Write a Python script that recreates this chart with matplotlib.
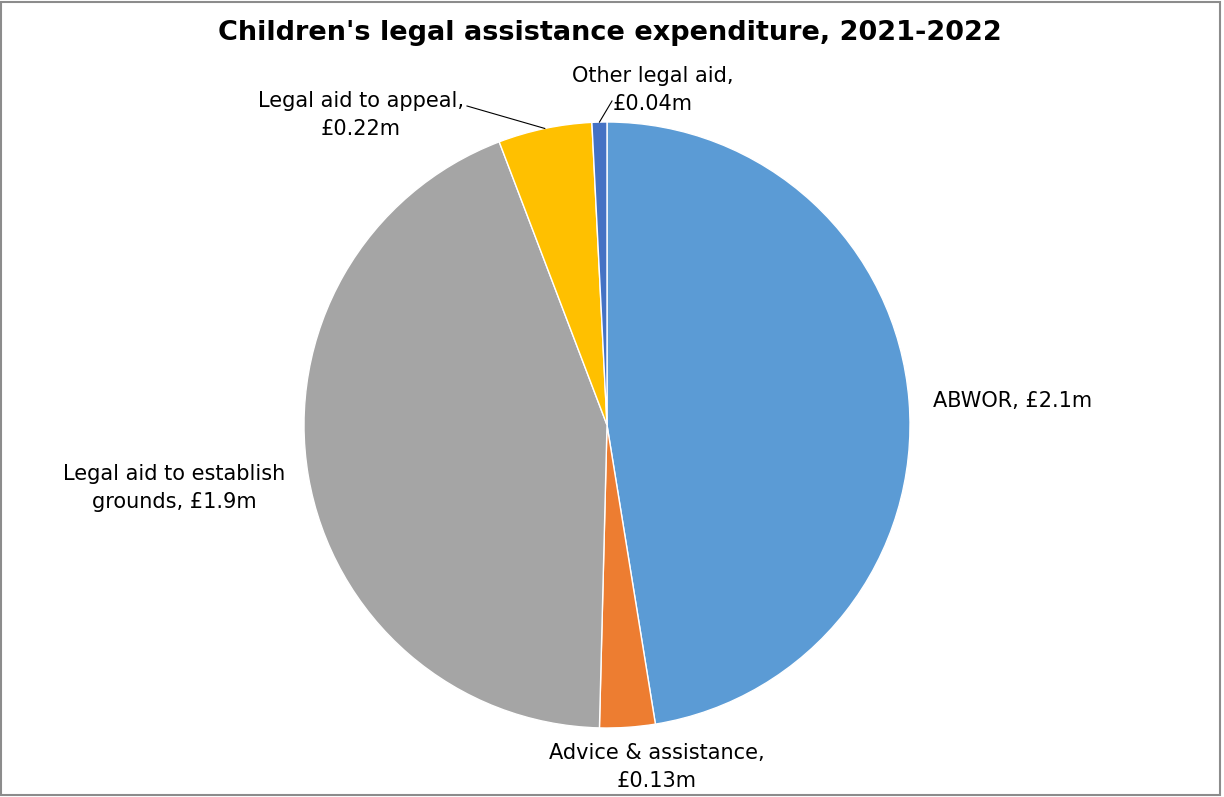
import numpy as np
import matplotlib
matplotlib.use("Agg")
import matplotlib.pyplot as plt
from matplotlib.patches import Rectangle

labels = ["ABWOR", "Advice & assistance", "Legal aid to establish\ngrounds",
          "Legal aid to appeal", "Other legal aid"]
values = [2.09, 0.13, 1.93, 0.22, 0.035]
value_labels = ["£2.1m", "£0.13m", "£1.9m", "£0.22m", "£0.04m"]
colors = ["#5B9BD5", "#ED7D31", "#A5A5A5", "#FFC000", "#4472C4"]

W, H = 1224, 797
cx, cy, r = 607, 425, 303  # pie centre and radius in pixels

fig = plt.figure(figsize=(W / 100, H / 100), dpi=100)
ax = fig.add_axes([0, 0, 1, 1])

wedges, _ = ax.pie(values, colors=colors, startangle=90, counterclock=False,
                   radius=1, center=(0, 0), frame=True,
                   wedgeprops=dict(edgecolor="white", linewidth=1.0))
ax.axis("off")
ax.set_aspect("equal")
ax.set_xlim(-cx / r, (W - cx) / r)
ax.set_ylim(-(H - cy) / r, cy / r)


def px(x, y):
    return ((x - cx) / r, (cy - y) / r)


def edge_point(w):
    mid = np.deg2rad((w.theta1 + w.theta2) / 2)
    return (np.cos(mid), np.sin(mid))


fs = 15
ls = 1.45
ax.text(*px(933, 401), f"{labels[0]}, {value_labels[0]}", ha="left", va="center",
        fontsize=fs)
ax.text(*px(657, 767), f"{labels[1]},\n{value_labels[1]}", ha="center", va="center",
        fontsize=fs, linespacing=ls)
ax.text(*px(174, 488), f"{labels[2]}, {value_labels[2]}", ha="center",
        va="center", fontsize=fs, linespacing=ls)
ax.text(*px(361, 115), f"{labels[3]},\n{value_labels[3]}", ha="center",
        va="center", fontsize=fs, linespacing=ls)
ax.text(*px(653, 90), f"{labels[4]},\n{value_labels[4]}", ha="center",
        va="center", fontsize=fs, linespacing=ls)

# leader lines
for w, start in [(wedges[3], px(467, 106)), (wedges[4], px(612, 101))]:
    ex, ey = edge_point(w)
    ax.plot([start[0], ex], [start[1], ey], color="black", lw=0.8)

fig.text(0.498, 1 - 33 / H, "Children's legal assistance expenditure, 2021-2022",
         ha="center", va="center", fontsize=19.5, fontweight="bold")

fig.patches.append(Rectangle((0.001, 0.002), 0.996, 0.996, transform=fig.transFigure,
                             fill=False, edgecolor="#8c8c8c", linewidth=1.5))

fig.savefig("out.png", dpi=100)
